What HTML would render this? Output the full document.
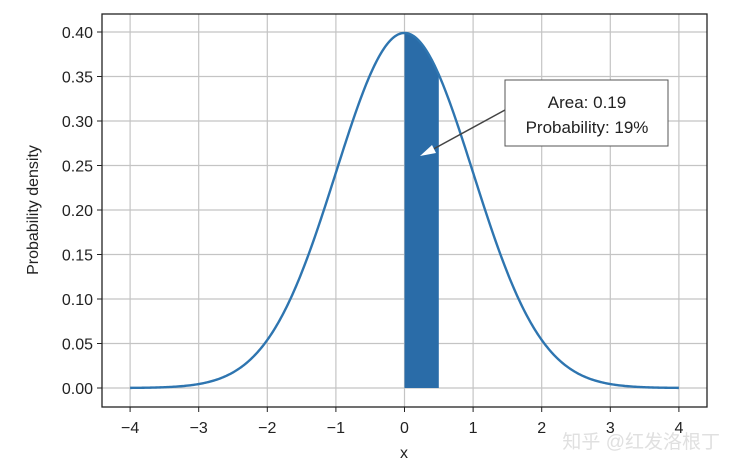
<!DOCTYPE html>
<html><head><meta charset="utf-8"><style>
body{margin:0;background:#fff;}
text{font-family:"Liberation Sans","DejaVu Sans",sans-serif;fill:#222;}
</style></head><body>
<svg id="s" width="736" height="470" xmlns="http://www.w3.org/2000/svg">
<rect width="736" height="470" fill="#fff"/>
<g id="grid" stroke="#c4c4c4" stroke-width="1.2"></g>
<path id="fill" fill="#2a6ca8"/>
<path id="curve" fill="none" stroke="#2e75b0" stroke-width="2.4"/>
<rect x="102" y="14" width="605" height="393" fill="none" stroke="#222" stroke-width="1.3"/>
<g id="ticks"></g>
<text x="404" y="458" font-size="16" text-anchor="middle">x</text>
<text transform="translate(38,210) rotate(-90)" font-size="16" text-anchor="middle">Probability density</text>
<rect x="505" y="80" width="163" height="66" fill="#fff" stroke="#555" stroke-width="1"/>
<text x="587" y="108" font-size="17" text-anchor="middle" fill="#333">Area: 0.19</text>
<text x="587" y="133" font-size="17" text-anchor="middle" fill="#333">Probability: 19%</text>
<line x1="505" y1="110" x2="428" y2="152" stroke="#444" stroke-width="1.5"/>
<polygon points="420,156 432,145 436,153" fill="#fff"/>
<text x="720" y="448" font-size="19" text-anchor="end" style="font-family:'Liberation Sans','Noto Sans CJK SC',sans-serif;fill:#e0e0e0">知乎 @红发洛根丁</text>
</svg>
<script>
var X=function(x){return 404.5+68.6*x},Y=function(y){return 388-890*y};
var f=function(x){return Math.exp(-x*x/2)/Math.sqrt(2*Math.PI)};
var g=document.getElementById('grid'),t=document.getElementById('ticks'),ns='http://www.w3.org/2000/svg';
function el(p,n,a,txt){var e=document.createElementNS(ns,n);for(var k in a)e.setAttribute(k,a[k]);if(txt)e.textContent=txt;p.appendChild(e);}
for(var i=-4;i<=4;i++){el(g,'line',{x1:X(i),x2:X(i),y1:14,y2:407});el(t,'line',{x1:X(i),x2:X(i),y1:407,y2:412,stroke:'#222'});el(t,'text',{x:X(i),y:433,'font-size':16,'text-anchor':'middle'},(i<0?'\u2212':'')+Math.abs(i));}
for(var j=0;j<=8;j++){var v=j*0.05;el(g,'line',{x1:102,x2:707,y1:Y(v),y2:Y(v)});el(t,'line',{x1:97,x2:102,y1:Y(v),y2:Y(v),stroke:'#222'});el(t,'text',{x:93,y:Y(v)+6,'font-size':16,'text-anchor':'end'},v.toFixed(2));}
var d='';for(var x=-4;x<=4.0001;x+=0.02){d+=(d?'L':'M')+X(x).toFixed(2)+','+Y(f(x)).toFixed(2);}
document.getElementById('curve').setAttribute('d',d);
var p='M'+X(0)+','+Y(0);for(var x=0;x<=0.5001;x+=0.01){p+='L'+X(x).toFixed(2)+','+Y(f(x)).toFixed(2);}p+='L'+X(0.5)+','+Y(0)+'Z';
document.getElementById('fill').setAttribute('d',p);
</script>
</body></html>
